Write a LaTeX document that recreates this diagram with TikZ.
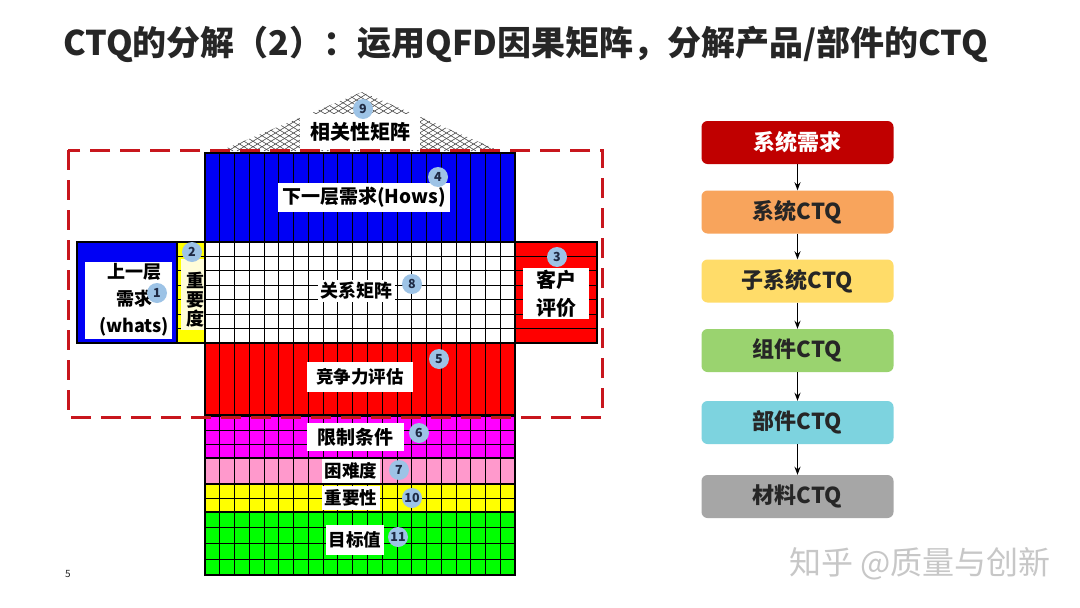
\documentclass[tikz,border=0pt]{standalone}
\usepackage{fontspec}
\setmainfont{Noto Sans CJK SC}
\usetikzlibrary{arrows.meta}
\definecolor{dred}{HTML}{C00000}
\definecolor{dashred}{HTML}{C8161D}
\definecolor{hblue}{HTML}{0000F5}
\definecolor{hred}{HTML}{FF0000}
\definecolor{hmag}{HTML}{FF00FF}
\definecolor{hpink}{HTML}{FF99CC}
\definecolor{hyel}{HTML}{FFFF00}
\definecolor{hgreen}{HTML}{00FF00}
\definecolor{cblue}{HTML}{9DC3E6}
\definecolor{cnum}{HTML}{1F2A44}
\definecolor{forange}{HTML}{F8A45C}
\definecolor{fyellow}{HTML}{FFDC69}
\definecolor{fgreen}{HTML}{9AD36F}
\definecolor{fcyan}{HTML}{7DD3DF}
\definecolor{fgray}{HTML}{A6A6A6}
\definecolor{txt}{HTML}{262626}
\newcommand{\vlines}[5]{% x0 y0 x1 y1 ncols
  \foreach \i in {1,...,#5}{\draw[gridline] ({#1+\i*(#3-#1)/#5},#2) -- ({#1+\i*(#3-#1)/#5},#4);}}
\newcommand{\hlines}[5]{% x0 y0 x1 y1 nrows
  \foreach \i in {1,...,#5}{\draw[gridline] (#1,{#2+\i*(#4-#2)/#5}) -- (#3,{#2+\i*(#4-#2)/#5});}}
\newcommand{\lblfont}[1]{\fontsize{#1}{#1}\selectfont\bfseries}
\begin{document}
\begin{tikzpicture}[x=1pt,y=-1pt,
  gridline/.style={black, line width=0.8pt},
  blockedge/.style={draw=black, line width=1.2pt},
  lbl/.style={fill=white, inner sep=2.5pt, font=\lblfont{17.5}, text=black},
  num/.style={circle, fill=cblue, inner sep=0pt, minimum size=20pt, font=\fontsize{12.5}{13}\selectfont\bfseries, text=cnum},
  flow/.style={rectangle, rounded corners=6pt, minimum width=192pt, minimum height=43pt, font=\fontsize{22}{24}\selectfont\bfseries, text=txt},
  flowarrow/.style={-{Stealth[length=8pt,width=6pt]}, line width=1.5pt, black}
]
\useasboundingbox (0,0) rectangle (1080,608);
\fill[white] (0,0) rectangle (1080,608);

% title
\node[anchor=west, inner sep=0pt, font=\fontsize{34}{37}\selectfont\bfseries, text=txt] (title) at (63,44)
  {CTQ的分解（2）：运用QFD因果矩阵，分解产品/部件的CTQ};

% roof lattice
\begin{scope}
  \clip (220,151) -- (362,92) -- (500,151) -- cycle;
  \fill[white] (220,151) -- (362,92) -- (500,151) -- cycle;
  \foreach \s in {120,129,...,510}{\draw[black!70, line width=0.6pt] (\s,151) -- ({\s+100},90);}
  \foreach \s in {215,224,...,610}{\draw[black!70, line width=0.6pt] (\s,151) -- ({\s-100},90);}
\end{scope}

% Hows (blue)
\fill[hblue] (205,153) rectangle (515,242);
\vlines{205}{153}{515}{242}{21}
\draw[blockedge] (205,153) rectangle (515,242);

% relation matrix
\fill[white] (205,242) rectangle (515,343);
\vlines{205}{242}{515}{343}{21}
\hlines{205}{242}{515}{343}{7}
\draw[blockedge] (205,242) rectangle (515,343);

% whats
\fill[hblue] (77,242) rectangle (177,343);
\fill[white] (85,262) rectangle (172,339);
\draw[blockedge] (77,242) rectangle (177,343);

% importance column
\fill[hyel] (177,242) rectangle (205,343);
\hlines{177}{242}{205}{343}{7}
\fill[white!85!yellow] (181,259) rectangle (204,330);
\draw[blockedge] (177,242) rectangle (205,343);

% customer evaluation
\fill[hred] (515,242) rectangle (597,343);
\hlines{515}{242}{597}{343}{7}
\fill[white] (523,268) rectangle (589,319);
\draw[blockedge] (515,242) rectangle (597,343);

% competitiveness
\fill[hred] (205,343) rectangle (515,415);
\vlines{205}{343}{515}{415}{21}
\draw[blockedge] (205,343) rectangle (515,415);

% constraints
\fill[hmag] (205,416) rectangle (515,458);
\vlines{205}{416}{515}{458}{21}
\hlines{205}{416}{515}{458}{3}
\draw[blockedge] (205,416) rectangle (515,458);

% difficulty
\fill[hpink] (205,458) rectangle (515,484);
\vlines{205}{458}{515}{484}{21}
\draw[blockedge] (205,458) rectangle (515,484);

% importance row
\fill[hyel] (205,484) rectangle (515,512);
\vlines{205}{484}{515}{512}{21}
\hlines{205}{484}{515}{512}{2}
\draw[blockedge] (205,484) rectangle (515,512);

% target
\fill[hgreen] (205,512) rectangle (515,575);
\vlines{205}{512}{515}{575}{21}
\hlines{205}{512}{515}{575}{4}
\draw[blockedge] (205,512) rectangle (515,575);

% labels
\node[lbl, font=\lblfont{20}, minimum width=120pt, minimum height=36pt] (roofl) at (360,132) {相关性矩阵};
\node[lbl, font=\lblfont{19}, minimum width=172pt, minimum height=29pt] (hows) at (364,197) {下一层需求(Hows)};
\node[lbl, font=\lblfont{18}] (rel) at (356,291) {关系矩阵};
\node[align=center, inner sep=0pt, font=\fontsize{18}{27}\selectfont\bfseries] (whats) at (134,300) {上一层\\需求\\(whats)};
\node[align=center, inner sep=0pt, font=\fontsize{18}{19}\selectfont\bfseries] (imp) at (195,300) {重\\要\\度};
\node[align=center, inner sep=0pt, font=\fontsize{20}{28}\selectfont\bfseries] (cust) at (556,294) {客户\\评价};
\node[lbl, minimum width=106pt, minimum height=30pt] (comp) at (360,377) {竞争力评估};
\node[lbl, font=\lblfont{19}, minimum width=97pt, minimum height=28pt] (cons) at (355,437) {限制条件};
\node[lbl, minimum height=24pt] (diff) at (351,471) {困难度};
\node[lbl, minimum height=24pt] (impr) at (351,498) {重要性};
\node[lbl, minimum height=30pt] (targ) at (355,540) {目标值};

% numbered circles
\node[num] (c1) at (157,293) {1};
\node[num] (c2) at (192,252) {2};
\node[num] (c3) at (557,257) {3};
\node[num] (c4) at (438,177) {4};
\node[num] (c5) at (439,359) {5};
\node[num] (c6) at (419,433) {6};
\node[num] (c7) at (399,470) {7};
\node[num] (c8) at (412,284) {8};
\node[num] (c9) at (363,109) {9};
\node[num] (c10) at (412,498) {10};
\node[num] (c11) at (398,537) {11};

% dashed frame
\draw[dashred, line width=3pt, dash pattern=on 20pt off 10pt] (68,150) rectangle (602,417);

% flow chart
\node[flow, fill=dred, text=white] (f1) at (797.5,142.5) {系统需求};
\node[flow, fill=forange] (f2) at (797.5,212) {系统CTQ};
\node[flow, fill=fyellow] (f3) at (797.5,281) {子系统CTQ};
\node[flow, fill=fgreen] (f4) at (797.5,350.5) {组件CTQ};
\node[flow, fill=fcyan] (f5) at (797.5,422.5) {部件CTQ};
\node[flow, fill=fgray] (f6) at (797.5,496.5) {材料CTQ};
\draw[flowarrow] (f1) -- (f2);
\draw[flowarrow] (f2) -- (f3);
\draw[flowarrow] (f3) -- (f4);
\draw[flowarrow] (f4) -- (f5);
\draw[flowarrow] (f5) -- (f6);

% page number and watermark
\node[font=\fontsize{10}{12}\selectfont, text=txt] (page) at (68,574) {5};
\node[anchor=west, inner sep=0pt, font=\fontsize{32}{34}\selectfont, text=black!22] (wm) at (789,564) {知乎 @质量与创新};
\end{tikzpicture}
\end{document}
